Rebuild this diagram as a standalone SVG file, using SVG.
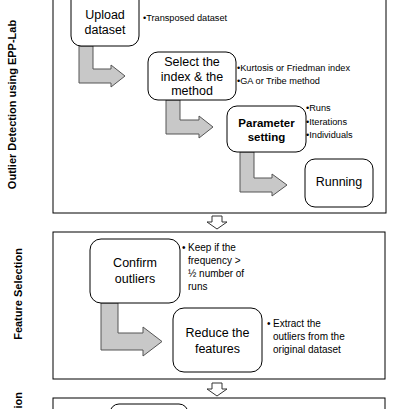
<svg xmlns="http://www.w3.org/2000/svg" width="409" height="409" viewBox="0 0 409 409">
<style>
.panel{fill:#fff;stroke:#000;stroke-width:1}
.box{fill:#fff;stroke:#000;stroke-width:1}
.bent{fill:#c8c8c8;stroke:#555;stroke-width:1;stroke-linejoin:miter}
.hollow{fill:#fff;stroke:#333;stroke-width:1}
.lbl{font-family:"Liberation Sans",Arial,sans-serif;font-size:12.5px;fill:#000;text-anchor:middle}
.b1{font-family:"Liberation Sans",Arial,sans-serif;font-size:9.2px;fill:#000}
.b2{font-family:"Liberation Sans",Arial,sans-serif;font-size:10px;fill:#000}
.ttl{font-family:"Liberation Sans",Arial,sans-serif;font-size:11px;font-weight:bold;fill:#000;text-anchor:middle}
</style>
<rect width="409" height="409" fill="#fff"/>
<g id="panels">
<rect class="panel" x="53" y="-5" width="333" height="218"/>
<rect class="panel" x="53" y="232" width="332" height="147"/>
<rect class="panel" x="53" y="398" width="332" height="20"/>
</g>
<g id="titles">
<text class="ttl" transform="translate(16,104.5) rotate(-90)">Outlier Detection using EPP-Lab</text>
<text class="ttl" transform="translate(21.5,294) rotate(-90)">Feature Selection</text>
<text class="ttl" transform="translate(21.5,392) rotate(-90)" style="text-anchor:end">ion</text>
</g>
<g id="connectors">
<path class="bent" d="M79,46 L79,83 L111,83 L111,87 L125,76 L111,65 L111,69 L93,69 L93,46 Z"/>
<path class="bent" d="M166,100 L166,134 L199,134 L199,138 L213,127 L199,116 L199,120 L180,120 L180,100 Z"/>
<path class="bent" d="M240,152 L240,192 L272,192 L272,196 L287,185 L272,174 L272,178 L254,178 L254,152 Z"/>
<path class="bent" d="M101,303 L101,350 L143,350 L143,356 L162,341.5 L143,327 L143,333 L118,333 L118,303 Z"/>
<path class="hollow" d="M212,216 L222,216 L222,222 L227,222 L217,229 L207,222 L212,222 Z"/>
<path class="hollow" d="M212,383 L222,383 L222,389 L227,389 L217,396 L207,389 L212,389 Z"/>
</g>
<g id="upload">
<rect class="box" x="71" y="-12" width="68" height="58" rx="10"/>
<text class="lbl" x="105" y="18.5">Upload</text>
<text class="lbl" x="105" y="33.5">dataset</text>
<text class="b1" x="143" y="21">•Transposed dataset</text>
</g>
<g id="select">
<rect class="box" x="148" y="52" width="88" height="48" rx="10"/>
<text class="lbl" x="192" y="66">Select the</text>
<text class="lbl" x="192" y="81">index &amp; the</text>
<text class="lbl" x="192" y="95">method</text>
<text class="b1" x="237" y="71">•Kurtosis or Friedman index</text>
<text class="b1" x="237" y="84">•GA or Tribe method</text>
</g>
<g id="parameter">
<rect class="box" x="227" y="106" width="79" height="46" rx="10"/>
<text class="lbl" x="266.5" y="127" style="font-weight:bold;font-size:11.5px">Parameter</text>
<text class="lbl" x="266.5" y="141" style="font-weight:bold;font-size:11.5px">setting</text>
<text class="b1" x="306" y="111">•Runs</text>
<text class="b1" x="306" y="125">•Iterations</text>
<text class="b1" x="306" y="138">•Individuals</text>
</g>
<g id="running">
<rect class="box" x="305" y="159" width="68" height="48" rx="10"/>
<text class="lbl" x="339" y="186">Running</text>
</g>
<g id="confirm">
<rect class="box" x="90" y="239" width="90" height="64" rx="11"/>
<text class="lbl" x="135" y="267">Confirm</text>
<text class="lbl" x="135" y="283">outliers</text>
<text class="b2" x="182" y="251">•</text>
<text class="b2" x="188" y="251">Keep if the</text>
<text class="b2" x="188" y="264">frequency &gt;</text>
<text class="b2" x="188" y="277">½ number of</text>
<text class="b2" x="188" y="290">runs</text>
</g>
<g id="reduce">
<rect class="box" x="173" y="308" width="89" height="64" rx="11"/>
<text class="lbl" x="217.5" y="337">Reduce the</text>
<text class="lbl" x="217.5" y="353">features</text>
<text class="b2" x="267" y="327">•</text>
<text class="b2" x="273" y="327">Extract the</text>
<text class="b2" x="273" y="340">outliers from the</text>
<text class="b2" x="273" y="353">original dataset</text>
</g>
<g id="next">
<rect class="box" x="110" y="404" width="78" height="30" rx="9"/>
</g>
</svg>
